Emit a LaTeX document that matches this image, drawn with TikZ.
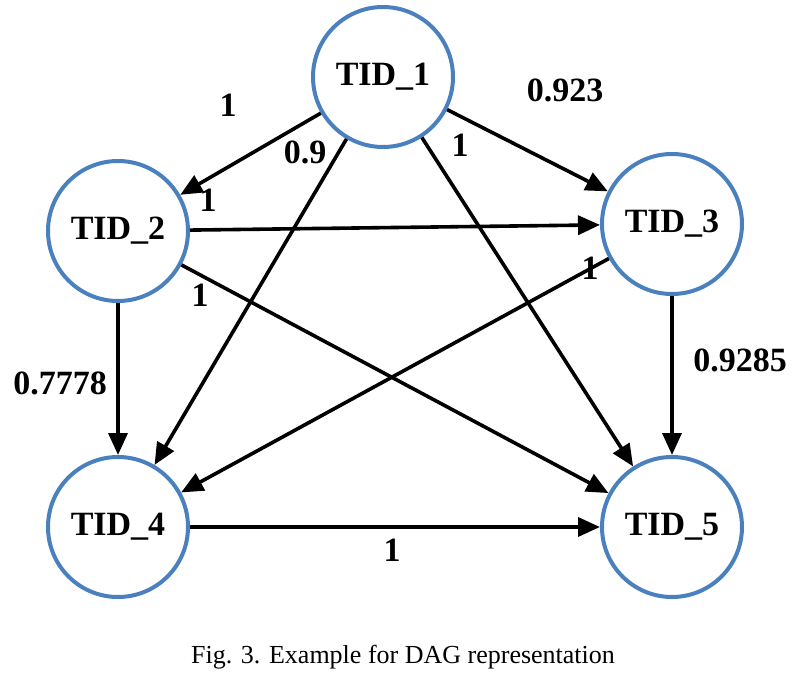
\documentclass[tikz,border=0pt]{standalone}
\usepackage{fontspec}
\setmainfont{Liberation Serif}
\usetikzlibrary{arrows.meta}
\definecolor{cb}{RGB}{74,128,190}
\begin{document}
\begin{tikzpicture}[x=1pt,y=-1pt,
  tid/.style={circle,draw=cb,line width=4pt,minimum size=140pt,inner sep=0pt,font=\fontsize{34}{38}\selectfont\bfseries},
  ed/.style={line width=3.6pt,-{Triangle[length=22pt,width=19pt]}},
  lb/.style={font=\fontsize{34}{38}\selectfont\bfseries}]
\useasboundingbox (0,0) rectangle (807,674);
\node[tid] (t1) at (383,77) {TID\_1};
\node[tid] (t2) at (118,231) {TID\_2};
\node[tid] (t3) at (672,224) {TID\_3};
\node[tid] (t4) at (118,527) {TID\_4};
\node[tid] (t5) at (672,527) {TID\_5};
\draw[ed] (t1) -- (t2);
\draw[ed] (t1) -- (t3);
\draw[ed] (t1) -- (t4);
\draw[ed] (t1) -- (t5);
\draw[ed] (t2) -- (t3);
\draw[ed] (t2) -- (t5);
\draw[ed] (t2) -- (t4);
\draw[ed] (t3) -- (t4);
\draw[ed] (t3) -- (t5);
\draw[ed] (t4) -- (t5);
\node[lb] (l1) at (228,105) {1};
\node[lb] (l2) at (305,152) {0.9};
\node[lb] (l3) at (460,145) {1};
\node[lb] (l4) at (565,90) {0.923};
\node[lb] (l5) at (208,200) {1};
\node[lb] (l6) at (200,295) {1};
\node[lb] (l7) at (60,383) {0.7778};
\node[lb] (l8) at (590,268) {1};
\node[lb] (l9) at (740,360) {0.9285};
\node[lb] (l10) at (392,550) {1};
\node[font=\fontsize{26}{30}\selectfont] (cap) at (403,657) {Fig. 3. Example for DAG representation};
\end{tikzpicture}
\end{document}
